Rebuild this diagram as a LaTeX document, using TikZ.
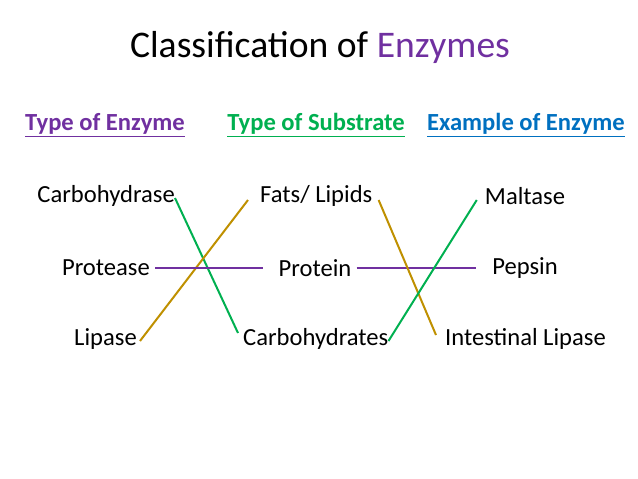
\documentclass[tikz,border=0pt]{standalone}
\usepackage{fontspec}
\setmainfont{Carlito}
\usetikzlibrary{calc}
\definecolor{epurple}{HTML}{7030A0}
\definecolor{egreen}{HTML}{00B050}
\definecolor{eblue}{HTML}{0070C0}
\definecolor{egold}{HTML}{BF9000}
\begin{document}
\begin{tikzpicture}[x=1pt,y=-1pt,
  lbl/.style={font=\fontsize{24.6}{29}\selectfont, inner sep=0pt},
  hdr/.style={font=\fontsize{24.6}{29}\selectfont\bfseries, inner sep=0pt},
  conn/.style={line width=2pt}]
\useasboundingbox (0,0) rectangle (638,479);
\node[inner sep=0pt,font=\fontsize{37.6}{42}\selectfont] (title) at (320,47) {Classification of \textcolor{epurple}{Enzymes}};
\node[hdr,text=epurple] (h1) at (105,125) {\underline{Type of Enzyme}};
\node[hdr,text=egreen] (h2) at (316,125) {\underline{Type of Substrate}};
\node[hdr,text=eblue] (h3) at (526,125) {\underline{Example of Enzyme}};
\node[lbl,anchor=east] (carb) at (175,196) {Carbohydrase};
\node[lbl,anchor=east] (prot) at (150,268) {Protease};
\node[lbl,anchor=east] (lip) at (137,339) {Lipase};
\node[lbl,anchor=west] (fats) at (260,196) {Fats/ Lipids};
\node[lbl] (protein) at (315,268) {Protein};
\node[lbl,anchor=west] (carbs) at (243,339) {Carbohydrates};
\node[lbl] (malt) at (525,196) {Maltase};
\node[lbl] (peps) at (525,268) {Pepsin};
\node[lbl,anchor=west] (intl) at (445,339) {Intestinal Lipase};
\draw[conn,egreen] ($(carb.east)+(0,2)$) -- ($(carbs.west)+(-5,-6)$);
\draw[conn,egold] ($(lip.east)+(3,2)$) -- ($(fats.west)+(-12,4)$);
\draw[conn,epurple] ($(prot.east)+(5,0)$) -- ($(protein.west)+(-15,0)$);
\draw[conn,epurple] ($(protein.east)+(5,0)$) -- ($(peps.west)+(-16,0)$);
\draw[conn,egold] ($(fats.east)+(6,4)$) -- ($(intl.west)+(-9,-4)$);
\draw[conn,egreen] ($(carbs.east)+(0,2)$) -- ($(malt.west)+(-8,4)$);
\end{tikzpicture}
\end{document}
